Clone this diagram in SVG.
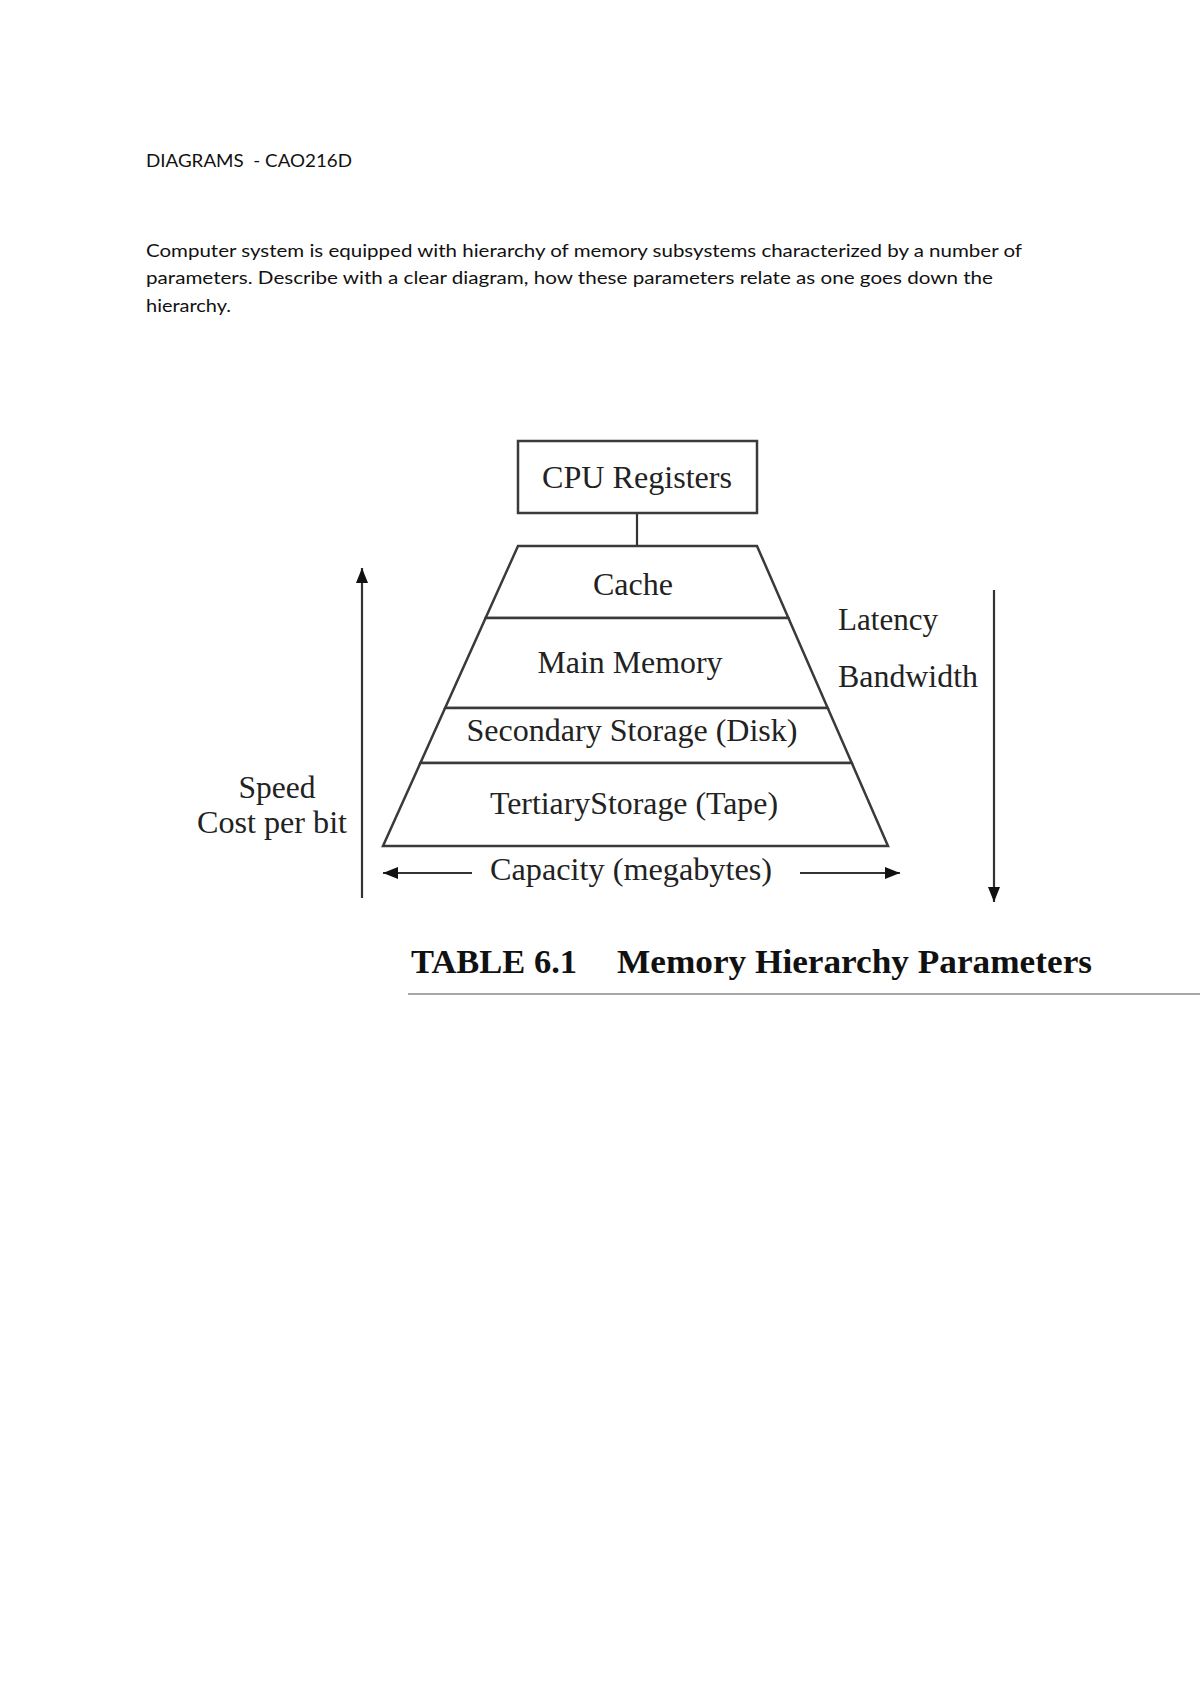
<svg xmlns="http://www.w3.org/2000/svg" width="1200" height="1696" viewBox="0 0 1200 1696">
  <style>
    .doc { font-family: "Lato", "Carlito", "Liberation Sans", sans-serif; font-size: 18px; fill: #111; }
    .lbl { font-family: "Liberation Serif", "Times New Roman", serif; font-size: 32px; fill: #222; }
    .cap { font-family: "Liberation Serif", "Times New Roman", serif; font-size: 33px; font-weight: bold; fill: #111; }
    .shape { fill: #fff; stroke: #3a3a3a; stroke-width: 2.5; stroke-linejoin: miter; }
    .conn { stroke: #333; stroke-width: 2.2; fill: none; }
  </style>
  <defs>
    <marker id="ah" viewBox="0 0 15 12" markerWidth="15" markerHeight="12" refX="15" refY="6" orient="auto" markerUnits="userSpaceOnUse">
      <path d="M0,0 L15,6 L0,12 z" fill="#111"/>
    </marker>
  </defs>
  <rect width="1200" height="1696" fill="#fff"/>

  <g id="intro">
    <text class="doc" x="146" y="167" xml:space="preserve" textLength="206" lengthAdjust="spacingAndGlyphs">DIAGRAMS  - CAO216D</text>
    <text class="doc" x="146" y="257" textLength="876" lengthAdjust="spacingAndGlyphs">Computer system is equipped with hierarchy of memory subsystems characterized by a number of</text>
    <text class="doc" x="146" y="284" textLength="847" lengthAdjust="spacingAndGlyphs">parameters. Describe with a clear diagram, how these parameters relate as one goes down the</text>
    <text class="doc" x="146" y="312" textLength="85" lengthAdjust="spacingAndGlyphs">hierarchy.</text>
  </g>

  <g id="connectors">
    <line class="conn" x1="637" y1="513" x2="637" y2="546"/>
    <line class="conn" x1="362" y1="898" x2="362" y2="568" marker-end="url(#ah)"/>
    <line class="conn" x1="994" y1="590" x2="994" y2="902" marker-end="url(#ah)"/>
    <line class="conn" x1="472" y1="873" x2="383" y2="873" stroke-width="3" marker-end="url(#ah)"/>
    <line class="conn" x1="800" y1="873" x2="900" y2="873" stroke-width="3" marker-end="url(#ah)"/>
  </g>

  <g id="cpu-registers">
    <rect class="shape" x="518" y="441" width="239" height="72"/>
    <text class="lbl" x="637" y="488" text-anchor="middle" textLength="190" lengthAdjust="spacingAndGlyphs">CPU Registers</text>
  </g>

  <g id="cache">
    <polygon class="shape" points="518,546 757,546 788.4,618 485.6,618"/>
    <text class="lbl" x="633" y="595" text-anchor="middle" textLength="80" lengthAdjust="spacingAndGlyphs">Cache</text>
  </g>

  <g id="main-memory">
    <polygon class="shape" points="485.6,618 788.4,618 827.7,708 445.1,708"/>
    <text class="lbl" x="630" y="673" text-anchor="middle" textLength="185" lengthAdjust="spacingAndGlyphs">Main Memory</text>
  </g>

  <g id="secondary-storage">
    <polygon class="shape" points="445.1,708 827.7,708 851.8,763 420.4,763"/>
    <text class="lbl" x="632" y="741" text-anchor="middle" textLength="331" lengthAdjust="spacingAndGlyphs">Secondary Storage (Disk)</text>
  </g>

  <g id="tertiary-storage">
    <polygon class="shape" points="420.4,763 851.8,763 888,846 383,846"/>
    <text class="lbl" x="634" y="814" text-anchor="middle" textLength="288" lengthAdjust="spacingAndGlyphs">TertiaryStorage (Tape)</text>
  </g>

  <g id="labels">
    <text class="lbl" x="838" y="630" textLength="100" lengthAdjust="spacingAndGlyphs">Latency</text>
    <text class="lbl" x="838" y="687" textLength="140" lengthAdjust="spacingAndGlyphs">Bandwidth</text>
    <text class="lbl" x="277" y="798" text-anchor="middle" textLength="77" lengthAdjust="spacingAndGlyphs">Speed</text>
    <text class="lbl" x="272" y="833" text-anchor="middle" textLength="150" lengthAdjust="spacingAndGlyphs">Cost per bit</text>
    <text class="lbl" x="490" y="880" textLength="282" lengthAdjust="spacingAndGlyphs">Capacity (megabytes)</text>
  </g>

  <g id="caption">
    <text class="cap" x="411" y="973" textLength="166" lengthAdjust="spacingAndGlyphs">TABLE 6.1</text>
    <text class="cap" x="617" y="973" textLength="475" lengthAdjust="spacingAndGlyphs">Memory Hierarchy Parameters</text>
    <line x1="408" y1="994" x2="1200" y2="994" stroke="#8a8a8a" stroke-width="1.6"/>
  </g>
</svg>
